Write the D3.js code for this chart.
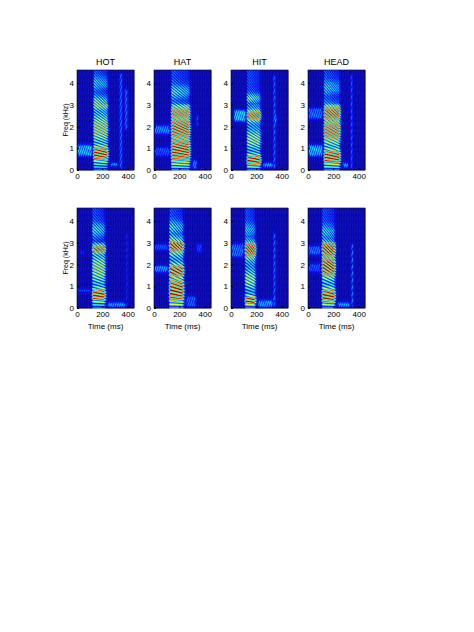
<!DOCTYPE html>
<html>
<head>
  <title>Spectrograms</title>
  <style>body{margin:0;background:#fff}</style>
</head>
<body>
  <svg id="main" width="474" height="632"></svg>
  <script src="https://cdn.jsdelivr.net/npm/d3@7.0.1/dist/d3.min.js"></script>
  <script>
    const titles = ['HOT', 'HAT', 'HIT', 'HEAD', '', '', '', '']
    const xTicks = [0, 200, 400]
    const yTicks = [0, 1, 2, 3, 4]
    // voiced part: start ms, end ms, pitch start kHz, pitch end kHz
    const voicing = [
      [120, 260, 0.14, 0.11], [125, 300, 0.14, 0.11], [115, 250, 0.15, 0.11], [115, 270, 0.15, 0.11],
      [110, 240, 0.15, 0.12], [110, 250, 0.17, 0.13], [100, 210, 0.16, 0.12], [100, 230, 0.16, 0.12]
    ]
    // formants per panel: [freq kHz, bandwidth kHz, strength]
    const formants = [
      [[0.75, 0.35, 1.0], [1.9, 0.6, 0.5], [3.1, 0.3, 0.6], [4.0, 0.3, 0.35]],
      [[0.9, 0.6, 0.95], [1.9, 0.6, 0.85], [2.6, 0.4, 0.7], [3.6, 0.3, 0.45]],
      [[0.45, 0.25, 1.0], [1.4, 0.4, 0.4], [2.5, 0.25, 0.85], [3.3, 0.2, 0.6]],
      [[0.6, 0.35, 1.0], [1.8, 0.6, 0.75], [2.6, 0.4, 0.85], [3.8, 0.3, 0.35]],
      [[0.6, 0.3, 1.0], [1.8, 0.6, 0.45], [2.7, 0.2, 0.85], [3.6, 0.3, 0.45]],
      [[0.8, 0.6, 1.0], [1.7, 0.3, 1.0], [2.9, 0.4, 0.95], [3.7, 0.3, 0.45]],
      [[0.35, 0.2, 1.0], [1.3, 0.4, 0.4], [2.7, 0.4, 1.0], [3.6, 0.3, 0.35]],
      [[0.55, 0.35, 1.0], [1.9, 0.5, 1.0], [2.7, 0.4, 1.0], [3.5, 0.3, 0.4]]
    ]
    // noise patches: [t0, t1, fLo, fHi, level]
    const patches = [
      [[0, 120, 0.6, 1.2, 0.42], [260, 320, 0.15, 0.35, 0.45], [330, 360, 0, 4.5, 0.32], [370, 400, 1.8, 3.8, 0.32]],
      [[0, 125, 1.6, 2.1, 0.36], [0, 125, 0.6, 1.1, 0.3], [300, 340, 0, 0.5, 0.36], [330, 350, 2.0, 2.6, 0.32]],
      [[20, 115, 2.2, 2.8, 0.45], [250, 330, 0.1, 0.35, 0.45], [330, 350, 0, 4.4, 0.36], [340, 360, 2.1, 2.6, 0.42]],
      [[0, 115, 0.6, 1.2, 0.42], [0, 115, 2.3, 2.9, 0.34], [270, 320, 0.1, 0.35, 0.45], [335, 350, 0, 4.4, 0.42]],
      [[0, 110, 0.7, 0.9, 0.34], [20, 60, 2.45, 2.6, 0.34], [240, 380, 0, 0.3, 0.4], [385, 400, 0, 3.5, 0.32]],
      [[0, 110, 1.6, 2.0, 0.38], [0, 110, 2.6, 3.0, 0.3], [250, 330, 0, 0.6, 0.32], [330, 380, 2.5, 3.0, 0.28]],
      [[0, 100, 2.3, 3.0, 0.34], [210, 330, 0, 0.4, 0.4], [330, 350, 0, 3.5, 0.36], [330, 350, 0.3, 0.5, 0.5]],
      [[0, 100, 2.4, 2.9, 0.34], [0, 100, 1.6, 2.1, 0.3], [230, 330, 0, 0.3, 0.4], [340, 355, 0, 3.0, 0.45]]
    ]

    const svg = d3.select('#main')
    const panelX = [77, 154, 231, 308]
    const panelY = [70, 208]
    const pw = 57, ph = 100
    const dt = 5, df = 0.025
    const jet = d3.scaleLinear()
      .domain([0, 0.2, 0.4, 0.62, 0.85, 1])
      .range(['#00007f', '#0000ff', '#00ffff', '#ffff00', '#ff0000', '#7f0000'])
      .clamp(true)

    const times = d3.range(0, 450, dt)
    const freqs = d3.range(0, 4.6, df)
    const soft = (x, a, b, w) => Math.min(1, Math.max(0, (x - a) / w + 0.5), Math.max(0, (b - x) / w + 0.5))

    function level(p, t, f) {
      // faint background texture so the blue is not flat
      let v = 0.03 + 0.17 * Math.pow(Math.sin(t * 0.37 + f * 11 + p) * Math.cos(t * 0.11 - f * 7), 2)
      const [t0, t1, p0, p1] = voicing[p]
      if (t >= t0 && t <= t1) {
        const u = (t - t0) / (t1 - t0)
        const pitch = p0 + (p1 - p0) * u
        const harm = Math.pow(Math.cos(Math.PI * f / pitch), 2)
        let env = 0
        formants[p].forEach(([F, bw, a]) => {
          env = Math.max(env, a * Math.exp(-Math.pow((f - F) / bw, 2)))
        })
        const fade = Math.min(1, (t - t0) / 15, (t1 - t) / 30)
        const hi = f > 3 ? 0.85 - u * 0.25 : 1
        v = Math.max(v, (0.35 + 0.65 * harm) * (0.4 + 0.7 * env) * fade * hi)
      }
      patches[p].forEach(([a, b, lo, hi2, l]) => {
        const s = soft(t, a, b, 20) * soft(f, lo, hi2, 0.25)
        v = Math.max(v, s * l * (0.75 + 0.25 * Math.sin(t * 0.9 + f * 20)))
      })
      return v
    }

    d3.range(8).forEach(p => {
      const x0 = panelX[p % 4], y0 = panelY[Math.floor(p / 4)]
      const g = svg.append('g').attr('transform', `translate(${x0},${y0})`)
      const x = d3.scaleLinear().domain([0, 450]).range([0, pw])
      const y = d3.scaleLinear().domain([0, 4.6]).range([ph, 0])
      const cells = []
      times.forEach(t => freqs.forEach(f => cells.push({ t, f, v: level(p, t, f) })))
      g.selectAll('rect').data(cells).join('rect')
        .attr('x', d => x(d.t)).attr('y', d => y(d.f + df))
        .attr('width', x(dt) - x(0) + 0.3).attr('height', y(0) - y(df) + 0.3)
        .attr('fill', d => jet(d.v))
      g.append('rect').attr('width', pw).attr('height', ph)
        .attr('fill', 'none').attr('stroke', '#000').attr('stroke-width', 0.6)
      const xa = g.append('g').attr('transform', `translate(0,${ph})`)
        .call(d3.axisBottom(x).tickValues(xTicks).tickFormat(d3.format('d')).tickSize(-2).tickPadding(3))
      const ya = g.append('g').call(d3.axisLeft(y).tickValues(yTicks).tickFormat(d3.format('d')).tickSize(-2).tickPadding(3))
      ;[xa, ya].forEach(a => {
        a.select('.domain').remove()
        a.selectAll('text').attr('font-size', 8).attr('font-family', 'Liberation Sans, Arial')
      })
      if (titles[p]) {
        g.append('text').text(titles[p]).attr('x', pw / 2).attr('y', -5)
          .attr('text-anchor', 'middle').attr('font-size', 9).attr('font-family', 'Liberation Sans, Arial')
      }
      if (p % 4 === 0) {
        g.append('text').text('Freq (kHz)').attr('transform', `translate(-9,${ph / 2}) rotate(-90)`)
          .attr('text-anchor', 'middle').attr('font-size', 7).attr('font-family', 'Liberation Sans, Arial')
      }
      if (p >= 4) {
        g.append('text').text('Time (ms)').attr('x', pw / 2).attr('y', ph + 21)
          .attr('text-anchor', 'middle').attr('font-size', 8).attr('font-family', 'Liberation Sans, Arial')
      }
    })
  </script>
</body>
</html>
